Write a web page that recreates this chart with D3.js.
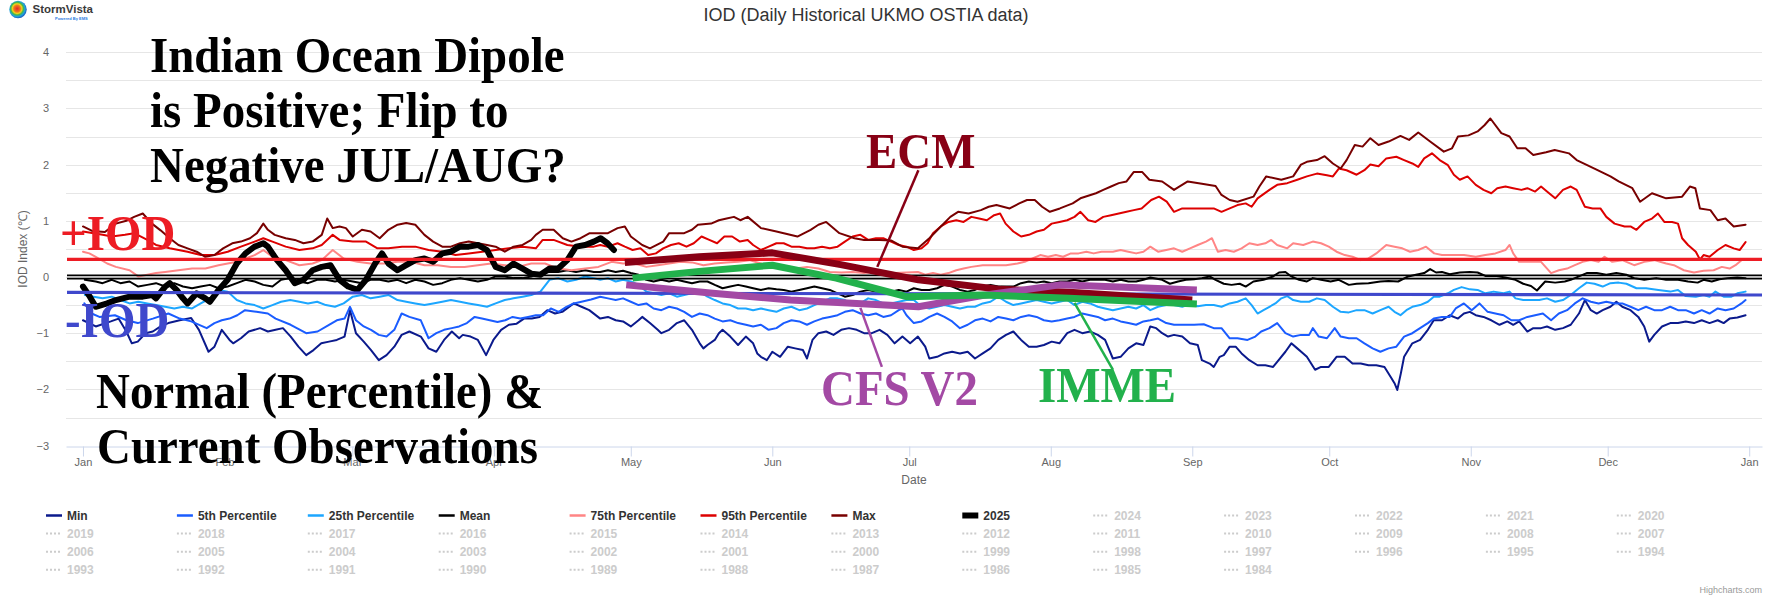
<!DOCTYPE html>
<html><head><meta charset="utf-8">
<script src="https://cdn.jsdelivr.net/npm/d3@7"></script>
<style>
body{margin:0;background:#fff;}
svg{display:block;font-family:"Liberation Sans",Arial,sans-serif;}
</style></head><body>
<svg id="chart" width="1772" height="600"></svg>
<script>
// ---------------- DATA ----------------
const monthLabels = ["Jan","Feb","Mar","Apr","May","Jun","Jul","Aug","Sep","Oct","Nov","Dec","Jan"];
const monthStartDays = [0,31,59,90,120,151,181,212,243,273,304,334,365];
const yTickValues = [-3,-2,-1,0,1,2,3,4];
const gridValues = [-2.5,-2,-1.5,-1,-0.5,0,0.5,1,1.5,2,2.5,3,3.5,4];

// [day of year, IOD index]
const minData = [[0,-0.77],[2.8,-0.88],[6.1,-0.79],[7.8,-0.74],[9.5,-0.97],[10.7,-1.18],[12,-1.15],[13.7,-1.0],[15.3,-0.97],[17,-0.88],[18.7,-0.82],[21.2,-0.77],[23.7,-0.73],[25.4,-0.94],[27.5,-1.33],[28.8,-1.24],[30.4,-0.94],[32.1,-1.12],[32.9,-1.18],[34.6,-1.09],[36.3,-0.97],[38.8,-0.91],[40.5,-0.97],[42.2,-0.94],[43.8,-0.91],[45.5,-1.06],[47.2,-1.24],[48.9,-1.39],[50.5,-1.30],[52.2,-1.18],[53.9,-1.15],[55.6,-1.12],[57.3,-1.06],[58.5,-0.59],[59.8,-1.0],[61.5,-1.15],[63.1,-1.30],[64.8,-1.48],[66.5,-1.39],[68.2,-1.24],[69.8,-1.03],[71.5,-0.97],[74,-1.06],[75.7,-1.27],[77.4,-1.33],[79.1,-1.12],[80.8,-0.97],[82.4,-1.09],[83.2,-1.03],[84.9,-1.06],[86.5,-1.12],[88.3,-1.39],[89.9,-1.12],[91.6,-0.94],[93.3,-0.85],[95,-0.83],[96.6,-0.74],[98.3,-0.74],[100,-0.71],[101.7,-0.59],[103.4,-0.65],[105,-0.62],[107.5,-0.47],[109.2,-0.53],[110.9,-0.59],[113.3,-0.74],[115,-0.71],[116.7,-0.77],[118.3,-0.79],[120,-0.88],[121.7,-0.77],[122.5,-0.71],[124.2,-0.82],[125.9,-0.94],[126.7,-1.0],[128.4,-0.94],[130.1,-0.82],[131.7,-0.77],[133.4,-0.94],[135.1,-1.18],[135.9,-1.27],[136.8,-1.21],[138.4,-1.12],[139.3,-1.0],[140.1,-0.94],[141.8,-1.06],[143.5,-1.21],[145.2,-1.06],[146.8,-1.18],[147.7,-1.36],[148.5,-1.42],[149.8,-1.48],[151,-1.33],[152.7,-1.42],[154.4,-1.24],[156,-1.27],[157.7,-1.30],[158.6,-1.45],[159.8,-1.12],[161.1,-1.0],[162.8,-0.97],[164.4,-1.03],[166.1,-0.94],[167.8,-0.91],[169.5,-0.94],[171.1,-1.0],[172.8,-1.0],[174.5,-0.94],[176.2,-1.03],[177.8,-1.18],[179.5,-1.06],[181.2,-1.18],[182.9,-1.06],[184.5,-1.24],[185.4,-1.45],[187.1,-1.42],[188.7,-1.36],[190.4,-1.33],[192.1,-1.36],[193.8,-1.33],[195.4,-1.45],[197.1,-1.36],[198.8,-1.27],[200.5,-1.12],[202.2,-1.03],[203.8,-0.97],[205.5,-1.12],[207.2,-1.24],[208.9,-1.24],[210.5,-1.21],[212.2,-1.15],[213.9,-1.18],[215.6,-1.0],[217.2,-0.94],[218.9,-1.0],[220.6,-0.97],[222.3,-1.03],[223.9,-1.12],[225.6,-1.45],[227.3,-1.42],[229,-1.27],[230.7,-1.18],[232.3,-1.21],[233.8,-0.88],[235.1,-0.91],[236.4,-1.0],[237.7,-1.06],[239,-1.03],[240.8,-1.06],[242.5,-1.18],[244.2,-1.21],[245.1,-1.48],[246.8,-1.54],[247.7,-1.60],[249,-1.42],[249.9,-1.39],[251.2,-1.24],[252.5,-1.24],[253.8,-1.36],[255.5,-1.48],[257.3,-1.57],[259,-1.57],[260.7,-1.60],[261.6,-1.51],[263.4,-1.33],[264.7,-1.18],[266,-1.27],[267.3,-1.36],[268.1,-1.42],[269.9,-1.65],[271.2,-1.60],[272.9,-1.60],[274.6,-1.42],[276.4,-1.42],[278.1,-1.54],[279.9,-1.54],[281.6,-1.57],[283.3,-1.57],[285.1,-1.60],[286.4,-1.77],[287.3,-1.89],[287.9,-2.01],[288.7,-1.71],[289.4,-1.42],[291.2,-1.18],[292.9,-1.12],[294.6,-0.94],[295.9,-0.77],[297.7,-0.77],[299.4,-0.68],[301.2,-0.74],[302.5,-0.65],[303.8,-0.62],[305.1,-0.68],[306.8,-0.71],[308.5,-0.77],[310.3,-0.85],[312,-0.79],[313.3,-0.85],[314.6,-0.79],[316.4,-0.97],[317.7,-0.91],[319.4,-0.91],[320.7,-0.88],[322.5,-0.94],[324.2,-0.91],[325.9,-0.85],[327.7,-0.65],[329,-0.41],[330.3,-0.59],[331.6,-0.65],[332.9,-0.59],[334.6,-0.53],[335.9,-0.44],[337.2,-0.53],[339,-0.59],[340.7,-0.71],[342,-0.88],[343.1,-1.15],[344.2,-1.03],[345.9,-0.88],[347.7,-0.82],[349.4,-0.82],[351.1,-0.79],[352.9,-0.82],[354.6,-0.77],[356.3,-0.82],[358.1,-0.77],[359.4,-0.82],[360.7,-0.74],[362.4,-0.72],[364.2,-0.68]];

const p5Data = [[0.3,-0.47],[1.9,-0.65],[3.6,-0.71],[7,-0.68],[9.5,-0.77],[12,-0.82],[15.3,-0.74],[18.7,-0.65],[21.2,-0.74],[23.7,-0.79],[27.1,-0.91],[28.8,-0.82],[30.4,-0.77],[32.1,-0.74],[33.8,-0.68],[35.5,-0.59],[38,-0.62],[40.5,-0.65],[42.2,-0.74],[45.5,-0.85],[48.9,-1.0],[51.4,-0.97],[53.9,-0.85],[55.6,-0.77],[57.3,-0.74],[58.5,-0.53],[59.8,-0.77],[61.5,-0.88],[63.1,-0.94],[64.8,-1.03],[66.5,-1.06],[68.2,-0.94],[69.8,-0.65],[71.5,-0.71],[74,-0.77],[75.7,-1.09],[77.4,-1.0],[79.1,-0.94],[80.8,-0.91],[82.4,-0.88],[84.1,-0.82],[85.8,-0.71],[87.4,-0.74],[89.1,-0.77],[90.8,-0.80],[92.5,-0.77],[94.1,-0.71],[95.8,-0.74],[97.5,-0.71],[99.2,-0.68],[100.8,-0.68],[102.5,-0.56],[104.2,-0.62],[105.9,-0.53],[107.5,-0.47],[109.2,-0.44],[111.3,-0.40],[113.3,-0.35],[115,-0.38],[116.7,-0.41],[118.3,-0.38],[120,-0.44],[121.7,-0.50],[123.4,-0.47],[125,-0.56],[126.7,-0.59],[128.4,-0.53],[130.1,-0.56],[131.7,-0.62],[133.4,-0.71],[135.1,-0.65],[136.8,-0.68],[138.4,-0.74],[140.1,-0.79],[141.8,-0.77],[143.5,-0.82],[145.2,-0.85],[146.8,-0.88],[148.5,-0.85],[150.2,-0.94],[151.9,-0.91],[153.5,-0.82],[155.2,-0.77],[156.9,-0.79],[158.6,-0.85],[160.2,-0.79],[161.9,-0.74],[163.6,-0.71],[165.3,-0.68],[166.9,-0.62],[168.6,-0.59],[170.3,-0.65],[172,-0.68],[173.7,-0.65],[175.3,-0.71],[177,-0.68],[178.7,-0.59],[179.5,-0.56],[180.4,-0.68],[182,-0.82],[183.7,-0.79],[185.4,-0.71],[187.1,-0.65],[188.7,-0.71],[190.4,-0.79],[192.1,-0.91],[193.8,-0.85],[195.4,-0.77],[197.1,-0.74],[198.8,-0.79],[200.5,-0.71],[202.2,-0.74],[203.8,-0.77],[205.5,-0.71],[207.2,-0.68],[208.9,-0.71],[210.5,-0.77],[212.2,-0.79],[213.9,-0.77],[215.6,-0.74],[217.2,-0.71],[218.9,-0.65],[220.6,-0.68],[222.3,-0.71],[223.9,-0.77],[225.6,-0.74],[227.3,-0.79],[229,-0.82],[230.7,-0.85],[232.3,-0.79],[233.8,-0.77],[235.5,-0.74],[237.3,-0.82],[239,-0.85],[240.8,-0.85],[243.4,-0.85],[245.5,-0.84],[247.7,-0.91],[249.4,-0.91],[251.2,-1.09],[252.9,-1.09],[255.1,-1.12],[256.8,-1.06],[258.1,-0.97],[259.9,-0.91],[261.6,-0.82],[263.4,-1.0],[265.1,-1.06],[266.8,-1.03],[268.6,-1.03],[269.4,-0.91],[270.7,-1.06],[272.5,-1.09],[274.2,-0.91],[275.5,-1.06],[277.3,-1.09],[279,-1.09],[280.7,-1.18],[282.5,-1.27],[284.2,-1.33],[286,-1.27],[287.7,-1.24],[289.4,-1.06],[291.2,-1.0],[292.9,-0.91],[294.6,-0.82],[295.9,-0.74],[297.7,-0.71],[299.4,-0.71],[300.7,-0.56],[302.5,-0.47],[304.2,-0.59],[305.9,-0.47],[307.7,-0.62],[309.4,-0.65],[311.2,-0.68],[312.9,-0.77],[314.6,-0.77],[316.4,-0.71],[318.1,-0.68],[319.8,-0.65],[321.6,-0.77],[323.3,-0.65],[325.1,-0.59],[326.8,-0.47],[328.5,-0.38],[330.3,-0.44],[332,-0.47],[333.7,-0.44],[335.5,-0.47],[337.2,-0.47],[339,-0.53],[340.7,-0.59],[342.4,-0.53],[344.2,-0.59],[345.9,-0.59],[347.7,-0.53],[349.4,-0.59],[351.1,-0.59],[352.9,-0.65],[354.6,-0.59],[356.3,-0.65],[358.1,-0.56],[359.8,-0.59],[361.6,-0.56],[363.3,-0.47],[364.2,-0.41]];

const p25Data = [[0.4,-0.32],[2.3,-0.35],[4.3,-0.38],[6.3,-0.35],[8.2,-0.41],[10.2,-0.47],[12.1,-0.44],[14.1,-0.47],[16,-0.50],[18,-0.53],[20,-0.56],[21.9,-0.53],[23.9,-0.56],[25.8,-0.47],[27.8,-0.38],[29.7,-0.23],[31.7,-0.26],[33.7,-0.41],[35.6,-0.47],[37.6,-0.50],[39.5,-0.56],[41.5,-0.50],[43.4,-0.44],[45.4,-0.41],[47.4,-0.44],[49.3,-0.47],[51.3,-0.44],[53.2,-0.50],[55.2,-0.53],[57.1,-0.47],[59.1,-0.35],[61.1,-0.32],[63,-0.38],[65,-0.35],[66.9,-0.32],[68.9,-0.41],[70.8,-0.44],[72.8,-0.47],[74.8,-0.50],[76.7,-0.47],[78.7,-0.44],[80.6,-0.41],[82.6,-0.44],[84.5,-0.47],[86.5,-0.50],[88.5,-0.53],[90.4,-0.47],[92.4,-0.41],[94.3,-0.38],[96.3,-0.35],[98.2,-0.32],[100.2,-0.26],[102.2,-0.05],[104.1,-0.02],[106.1,-0.08],[108,-0.05],[110,0.01],[111.9,-0.02],[113.3,-0.05],[115,-0.02],[116.7,-0.08],[118.3,-0.05],[120,-0.08],[121.7,-0.14],[123.4,-0.26],[125,-0.29],[126.7,-0.32],[128.4,-0.29],[130.1,-0.35],[131.7,-0.32],[133.4,-0.29],[135.1,-0.26],[136.8,-0.35],[138.4,-0.41],[140.1,-0.47],[141.8,-0.50],[143.5,-0.56],[145.2,-0.56],[146.8,-0.59],[148.5,-0.56],[150.2,-0.59],[151.9,-0.62],[153.5,-0.56],[155.2,-0.53],[156.9,-0.59],[158.6,-0.56],[160.2,-0.50],[161.9,-0.44],[163.6,-0.38],[165.3,-0.38],[166.9,-0.41],[168.6,-0.50],[170.3,-0.47],[172,-0.38],[173.7,-0.41],[175.3,-0.47],[177,-0.47],[178.7,-0.44],[180.4,-0.41],[182,-0.41],[183.7,-0.53],[185.4,-0.56],[187.1,-0.53],[188.7,-0.50],[190.4,-0.53],[192.1,-0.56],[193.8,-0.53],[195.4,-0.53],[197.1,-0.47],[198.8,-0.44],[200.5,-0.35],[202.2,-0.44],[203.8,-0.50],[205.5,-0.47],[207.2,-0.44],[208.9,-0.41],[210.5,-0.44],[212.2,-0.47],[213.9,-0.44],[215.6,-0.41],[217.2,-0.50],[218.9,-0.44],[220.6,-0.47],[222.3,-0.53],[223.9,-0.56],[225.6,-0.59],[227.3,-0.56],[229,-0.53],[230.7,-0.56],[232.3,-0.50],[233.8,-0.59],[235.5,-0.53],[237.3,-0.50],[239,-0.50],[240.8,-0.53],[242.5,-0.48],[244.2,-0.52],[246,-0.50],[247.7,-0.50],[249.4,-0.53],[251.2,-0.47],[252.9,-0.44],[254.7,-0.38],[256,-0.50],[257.3,-0.65],[258.6,-0.59],[259.9,-0.53],[261.2,-0.47],[262.5,-0.38],[263.8,-0.34],[265.1,-0.41],[266.8,-0.44],[268.6,-0.44],[270.3,-0.38],[272,-0.41],[273.8,-0.53],[275.5,-0.62],[277.3,-0.63],[279,-0.59],[280.7,-0.59],[282.5,-0.65],[284.2,-0.59],[286,-0.53],[287.3,-0.62],[288.6,-0.68],[289.9,-0.59],[291.2,-0.53],[292.9,-0.50],[294.6,-0.44],[295.9,-0.35],[297.2,-0.35],[299,-0.29],[300.3,-0.23],[302,-0.18],[303.8,-0.22],[305.5,-0.23],[307.2,-0.29],[309,-0.26],[311.2,-0.29],[312.5,-0.26],[313.8,-0.38],[315.5,-0.41],[317.2,-0.41],[319,-0.41],[320.7,-0.38],[322.5,-0.44],[324.2,-0.41],[325.9,-0.32],[327.7,-0.20],[329.4,-0.10],[331.1,-0.12],[332.9,-0.17],[334.6,-0.11],[336.4,-0.10],[338.1,-0.12],[340.3,-0.20],[342.4,-0.20],[345.1,-0.23],[347.7,-0.26],[349.4,-0.23],[351.1,-0.34],[353.3,-0.35],[355,-0.32],[356.3,-0.35],[357.6,-0.26],[359.4,-0.35],[361.1,-0.35],[362.4,-0.29],[364.2,-0.26]];

const meanData = [[0.4,-0.05],[2.8,-0.08],[4.3,-0.11],[6.3,-0.05],[8.2,-0.11],[10.2,-0.08],[12.1,-0.17],[14.1,-0.14],[16,-0.11],[18,-0.17],[20,-0.11],[21.9,-0.17],[23.9,-0.20],[25.8,-0.17],[27.8,-0.14],[29.7,-0.20],[31.7,-0.17],[33.7,-0.11],[35.6,-0.05],[37.6,-0.08],[39.5,-0.14],[41.5,-0.17],[43.4,-0.05],[45.4,-0.02],[47.4,-0.08],[49.3,-0.11],[51.3,-0.05],[53.2,-0.05],[55.2,-0.08],[57.1,-0.05],[59.1,-0.08],[61.1,-0.11],[63,-0.05],[65,-0.05],[66.9,-0.08],[68.9,-0.05],[70.8,-0.11],[72.8,-0.05],[74.8,-0.08],[76.7,-0.14],[78.7,-0.11],[80.6,-0.05],[82.6,-0.02],[84.5,-0.05],[86.5,-0.08],[88.5,-0.05],[90.4,0.01],[92.4,0.01],[94.3,-0.02],[96.3,-0.02],[98.2,0.01],[100.2,0.07],[102.2,0.09],[104.1,0.09],[106.1,0.12],[108,0.09],[110,0.12],[111.9,0.09],[113.3,0.09],[115,0.12],[116.7,0.09],[118.3,0.11],[120,0.07],[121.7,0.04],[123.4,-0.05],[125,-0.08],[126.7,-0.05],[128.4,-0.08],[130.1,-0.05],[131.7,-0.08],[133.4,-0.11],[135.1,-0.08],[136.8,-0.08],[138.4,-0.14],[140.1,-0.20],[141.8,-0.17],[143.5,-0.14],[145.2,-0.17],[146.8,-0.20],[148.5,-0.23],[150.2,-0.20],[151.9,-0.22],[153.5,-0.23],[155.2,-0.26],[156.9,-0.23],[158.6,-0.20],[160.2,-0.17],[161.9,-0.20],[163.6,-0.23],[165.3,-0.29],[166.9,-0.35],[168.6,-0.32],[170.3,-0.26],[172,-0.23],[173.7,-0.26],[175.3,-0.26],[177,-0.26],[178.7,-0.23],[180.4,-0.26],[182,-0.20],[183.7,-0.23],[185.4,-0.23],[187.1,-0.20],[188.7,-0.14],[190.4,-0.17],[192.1,-0.23],[193.8,-0.26],[195.4,-0.23],[197.1,-0.17],[198.8,-0.14],[200.5,-0.17],[202.2,-0.17],[203.8,-0.17],[205.5,-0.11],[207.2,-0.08],[208.9,-0.10],[210.5,-0.08],[212.2,-0.11],[213.9,-0.08],[215.6,-0.08],[217.2,-0.05],[218.9,-0.08],[220.6,-0.05],[222.3,-0.05],[223.9,-0.05],[225.6,-0.08],[227.3,-0.05],[229,-0.08],[230.7,-0.08],[232.3,-0.05],[233.8,-0.01],[236.4,-0.05],[238.1,-0.12],[239.9,-0.08],[241.6,-0.05],[243.4,-0.04],[245.1,-0.02],[246.8,0.01],[248.1,-0.05],[249.9,-0.12],[251.6,-0.14],[253.4,-0.12],[254.7,-0.17],[256.4,-0.08],[258.6,-0.05],[260.7,0.01],[262,0.08],[263.4,0.09],[264.7,0.01],[266.4,-0.05],[268.1,-0.08],[269.4,-0.02],[271.2,-0.05],[273.3,-0.08],[275.1,-0.05],[277.3,-0.14],[279,-0.12],[281.6,-0.11],[284.2,-0.08],[286,-0.07],[288.1,-0.08],[290.3,0.01],[292,0.04],[293.8,0.07],[295.1,0.14],[296.4,0.08],[297.7,0.09],[299.4,0.05],[301.6,0.08],[303.8,0.09],[305.5,0.08],[307.2,0.02],[309.4,0.02],[311.6,-0.01],[313.8,-0.05],[315.5,-0.12],[317.2,-0.16],[318.5,-0.24],[320.3,-0.08],[322.5,-0.10],[324.6,-0.08],[325.9,-0.05],[327.7,0.01],[329.4,0.07],[331.6,0.07],[333.7,0.04],[335.9,0.07],[338.1,0.04],[339.8,-0.02],[342,-0.05],[344.6,-0.02],[346.8,-0.05],[349.4,-0.05],[351.6,-0.08],[353.7,-0.10],[355,-0.05],[356.8,-0.08],[358.5,-0.04],[360.3,-0.02],[362.4,-0.01],[364.2,-0.02]];

const p75Data = [[0,0.45],[1.4,0.42],[2.8,0.36],[5.3,0.24],[7.2,0.18],[10.2,0.12],[12.1,0.01],[14.1,0.04],[16,0.07],[18,0.09],[20.9,0.12],[23.9,0.15],[26.8,0.15],[29.7,0.21],[31.7,0.24],[33.7,0.27],[35.6,0.33],[37.6,0.39],[39.5,0.48],[41.5,0.36],[44.4,0.30],[47.4,0.21],[50.3,0.24],[52.3,0.30],[54.7,0.48],[57.1,0.33],[60.1,0.27],[63,0.24],[66,0.24],[68.9,0.27],[71.8,0.27],[74.8,0.21],[77.7,0.21],[80.6,0.18],[83.6,0.18],[86.5,0.21],[89.4,0.24],[92.4,0.21],[95.3,0.18],[98.2,0.24],[101.2,0.24],[104.1,0.15],[107,0.12],[110,0.15],[112.9,0.18],[115.8,0.27],[118.3,0.24],[120.8,0.24],[123.4,0.18],[125.9,0.21],[128.4,0.24],[130.9,0.27],[133.4,0.26],[135.9,0.21],[138.4,0.24],[141,0.26],[143.5,0.27],[146,0.30],[148.5,0.24],[151,0.18],[153.5,0.15],[156,0.15],[158.6,0.18],[161.1,0.15],[163.6,0.09],[166.1,0.08],[168.6,0.09],[171.1,0.07],[172.8,0.09],[175.3,0.08],[177.8,0.07],[180.4,0.08],[182.9,0.09],[184.5,0.04],[186.2,0.07],[187.9,0.04],[189.6,0.07],[191.3,0.12],[192.9,0.15],[194.6,0.18],[197.1,0.21],[199.6,0.21],[202.2,0.21],[204.7,0.24],[206.3,0.27],[208,0.33],[209.7,0.39],[211.4,0.36],[213.1,0.39],[214.7,0.36],[216.4,0.42],[218.1,0.42],[219.8,0.45],[221.4,0.42],[223.1,0.45],[225.6,0.45],[227.3,0.48],[229,0.45],[230.7,0.42],[232.3,0.45],[233.8,0.54],[235.5,0.45],[237.3,0.48],[239,0.51],[240.8,0.45],[242.5,0.51],[244.2,0.57],[246,0.63],[247.3,0.69],[248.6,0.45],[250.3,0.48],[252.1,0.45],[253.8,0.51],[255.5,0.60],[257.3,0.57],[259,0.60],[260.3,0.66],[261.6,0.57],[263.8,0.51],[265.1,0.60],[267.3,0.57],[269.4,0.63],[271.2,0.60],[272.9,0.54],[274.6,0.45],[276.4,0.39],[278.1,0.36],[279.9,0.30],[281.6,0.33],[283.3,0.42],[285.5,0.57],[287.3,0.54],[289,0.51],[290.7,0.45],[292.5,0.48],[294.2,0.54],[296,0.42],[297.7,0.39],[299.9,0.39],[302.5,0.39],[305.1,0.36],[307.2,0.39],[309.4,0.42],[311.6,0.48],[312.5,0.57],[313.3,0.42],[314.6,0.27],[317.2,0.27],[319.4,0.27],[321.6,0.07],[323.3,0.12],[325.1,0.15],[326.8,0.21],[328.5,0.27],[330.3,0.30],[332,0.27],[333.3,0.36],[335,0.27],[337.2,0.30],[339.8,0.21],[342,0.27],[344.2,0.30],[346.8,0.24],[348.5,0.21],[350.7,0.12],[352.9,0.08],[355,0.11],[357.2,0.12],[359,0.18],[360.7,0.15],[362,0.21],[363.3,0.30]];

const p95Data = [[0,0.81],[4.3,0.75],[6.3,0.72],[9.2,0.75],[11.2,0.78],[14.1,0.66],[16,0.57],[19,0.51],[22.9,0.45],[25.8,0.39],[28.8,0.39],[31.7,0.45],[34.6,0.54],[37.6,0.63],[39.5,0.69],[41.5,0.63],[44.4,0.54],[47.4,0.48],[50.3,0.51],[52.3,0.57],[54.7,0.75],[56.2,0.66],[59.1,0.63],[62,0.63],[64.5,0.51],[66.9,0.51],[69.9,0.54],[72.8,0.54],[75.7,0.48],[78.7,0.45],[81.6,0.39],[84.5,0.42],[87.5,0.45],[90.4,0.48],[93.3,0.51],[96.3,0.54],[99.2,0.51],[100.7,0.66],[103.1,0.66],[106.1,0.57],[109,0.54],[111.9,0.54],[113.3,0.57],[115,0.54],[117.1,0.60],[118.7,0.54],[120.4,0.48],[122.1,0.51],[123.8,0.39],[125.5,0.42],[127.1,0.51],[128.8,0.57],[130.5,0.60],[132.2,0.54],[133.8,0.60],[135.5,0.72],[137.2,0.66],[138.9,0.60],[140.5,0.72],[142.2,0.72],[143.9,0.63],[145.6,0.66],[146.8,0.57],[148.5,0.48],[150.2,0.54],[151.9,0.60],[153.5,0.60],[155.2,0.54],[156.9,0.54],[158.6,0.51],[160.2,0.51],[161.9,0.54],[163.6,0.51],[165.3,0.54],[166.9,0.63],[168.6,0.72],[170.3,0.75],[172,0.66],[173.7,0.69],[175.3,0.69],[177,0.63],[178.7,0.57],[180.4,0.54],[182,0.48],[183.7,0.51],[185,0.60],[186.2,0.78],[187.9,0.90],[189.6,0.98],[191.3,1.01],[192.9,0.98],[194.6,1.07],[196.3,1.04],[198,1.01],[199.6,1.10],[200.9,1.13],[202.1,0.95],[203.8,0.81],[205.5,0.72],[207.2,0.75],[208.9,0.81],[210.5,0.84],[212.2,0.95],[213.9,0.98],[215.6,1.01],[217.2,1.07],[218.5,1.16],[220.2,1.01],[221.8,0.98],[223.5,1.07],[225.2,1.10],[226.9,1.13],[228.6,1.16],[230.2,1.19],[231.9,1.22],[234,1.37],[235.7,1.43],[237.4,1.34],[239,1.16],[240.8,1.22],[242.5,1.22],[245.1,1.22],[247.7,1.22],[249.4,1.16],[251.2,1.22],[252.9,1.28],[254.7,1.31],[256,1.25],[257.3,1.40],[259.9,1.55],[261.6,1.64],[263.8,1.67],[266,1.73],[268.1,1.79],[270.3,1.84],[272.5,1.81],[273.8,1.79],[275.1,1.93],[276.8,1.90],[279,1.82],[280.7,1.90],[282,2.0],[283.8,1.97],[285.5,2.11],[287.7,2.14],[289.4,2.08],[291.2,2.02],[292.5,1.96],[293.8,2.11],[295.5,2.20],[297.2,2.08],[299,1.99],[300.3,1.82],[301.6,1.73],[303.3,1.79],[305.1,1.64],[306.8,1.55],[308.5,1.49],[309.8,1.58],[311.6,1.61],[313.3,1.58],[315.1,1.55],[316.4,1.58],[318.1,1.52],[319.4,1.61],[320.7,1.52],[322.5,1.40],[324.2,1.55],[325.9,1.61],[327.2,1.55],[329,1.25],[330.7,1.22],[332.4,1.22],[333.7,1.07],[335.5,0.95],[337.7,0.90],[339,0.90],[340.3,0.84],[342,0.98],[343.7,1.04],[345,1.13],[346.4,0.98],[348.1,0.98],[349.4,0.95],[350.3,0.69],[351.6,0.57],[353.3,0.45],[354.2,0.31],[355,0.39],[356.3,0.36],[358.1,0.48],[359.8,0.57],[361.6,0.51],[362.9,0.48],[364.2,0.62]];

const maxData = [[0,0.90],[2,0.82],[4.8,0.80],[7.2,0.95],[9.5,1.0],[11.2,1.07],[13.1,1.13],[15.1,0.95],[17,0.83],[19,0.69],[20.9,0.57],[22.9,0.51],[24.9,0.45],[26.8,0.36],[28.8,0.39],[30.7,0.51],[32.7,0.60],[34.6,0.63],[36.6,0.69],[38.1,0.78],[39.5,0.95],[40.5,0.84],[42,0.75],[44.4,0.69],[46.4,0.66],[48.3,0.60],[50.3,0.63],[52.3,0.75],[53.5,1.04],[54.7,0.87],[56.2,0.90],[57.6,0.87],[59.1,0.72],[61.1,0.84],[63,0.81],[65,0.69],[66.9,0.84],[68.9,0.93],[70.8,0.96],[72.8,0.93],[74.8,0.75],[76.7,0.63],[78.7,0.54],[80.6,0.54],[82.6,0.60],[84.5,0.63],[86.5,0.60],[88.5,0.57],[90.4,0.54],[92.4,0.45],[94.3,0.54],[96.3,0.57],[98.2,0.66],[99.2,0.75],[100.7,0.84],[103.1,0.84],[105.1,0.69],[107,0.63],[109,0.69],[111,0.78],[113.9,0.78],[115,0.78],[117.1,0.87],[118.7,0.90],[120,0.72],[122.5,0.57],[124.2,0.51],[127.1,0.63],[128.4,0.78],[131.7,0.78],[133.4,0.84],[134.7,0.93],[137.6,0.95],[139.3,1.01],[141,1.04],[142.6,1.07],[144,1.01],[145.6,1.07],[148.5,0.87],[151.9,0.81],[156.5,0.72],[159.4,0.84],[161.1,0.93],[162.8,0.98],[165.7,0.78],[169,0.69],[171.1,0.66],[174.5,0.66],[177,0.65],[179.5,0.54],[182.9,0.51],[185.4,0.69],[188.3,0.93],[190,1.07],[191.7,1.16],[194,1.13],[196.7,1.19],[198.4,1.25],[200.1,1.28],[203,1.22],[205.1,1.31],[206.8,1.37],[208.5,1.37],[210.1,1.25],[211.8,1.16],[214,1.22],[216.8,1.31],[218.5,1.40],[221.9,1.49],[223.5,1.55],[225.2,1.61],[226.9,1.67],[228.6,1.70],[230.2,1.87],[232,1.87],[233.6,1.73],[236.4,1.70],[239,1.55],[242,1.70],[245.1,1.66],[248.1,1.62],[249.4,1.46],[251.2,1.37],[252.9,1.34],[256.4,1.43],[257.7,1.61],[259.2,1.79],[262.5,1.73],[265.1,1.79],[266.8,2.0],[268.1,2.05],[270.3,2.08],[272,2.15],[273.8,2.02],[275.5,1.93],[276.8,2.08],[278.6,2.35],[280.3,2.32],[282,2.47],[283.8,2.35],[286,2.41],[288.6,2.51],[290.5,2.44],[292.5,2.57],[295.1,2.41],[298.1,2.23],[299.9,2.29],[301.2,2.50],[303.5,2.52],[305.5,2.59],[307,2.70],[308.3,2.82],[310.7,2.56],[312.5,2.50],[314.2,2.29],[316,2.29],[317.7,2.17],[320.5,2.22],[322.4,2.26],[325.5,2.20],[327.2,2.08],[329.5,1.99],[331.1,1.93],[334.6,1.79],[336.4,1.70],[339.4,1.58],[341.1,1.34],[343.7,1.49],[346.8,1.40],[350.3,1.43],[352,1.61],[353.2,1.58],[354.2,1.22],[356.5,1.19],[358.1,1.01],[359.8,1.04],[361.6,0.90],[364.2,0.93]];

const obs2025Data = [[0,-0.17],[1.5,-0.35],[2.8,-0.53],[5.3,-0.47],[7.2,-0.41],[10.2,-0.35],[13.1,-0.35],[15.1,-0.32],[16,-0.38],[18,-0.17],[19,-0.11],[20.5,-0.23],[21.9,-0.38],[22.9,-0.47],[24.9,-0.29],[26.8,-0.38],[27.8,-0.44],[29.7,-0.23],[31.7,-0.05],[33.7,0.24],[35.6,0.42],[37.6,0.54],[39.5,0.60],[40.5,0.54],[42.5,0.30],[44.4,0.12],[46.4,-0.11],[48.3,-0.05],[50.3,0.12],[52.3,0.18],[54.2,0.21],[56.2,-0.05],[58.1,-0.17],[60.1,-0.23],[62,-0.05],[64,0.24],[65.5,0.42],[66.9,0.24],[68.9,0.12],[70.8,0.21],[72.8,0.30],[74.8,0.33],[76.7,0.27],[78.7,0.42],[80.6,0.45],[82.6,0.54],[84.5,0.54],[86.5,0.57],[88.5,0.48],[90.4,0.18],[92.4,0.12],[94.3,0.24],[96.3,0.15],[98.2,0.06],[100.2,0.04],[102.2,0.15],[104.1,0.15],[106.1,0.30],[108,0.54],[110,0.57],[111.9,0.63],[113.4,0.69],[114.9,0.60],[116.3,0.48]];

// Hand-drawn model forecasts (annotations)
const ecmForecast = [[118.7,0.26],[135,0.36],[151,0.43],[166,0.22],[183,-0.05],[201,-0.22],[216,-0.27],[243,-0.41]];
const immeForecast = [[120.4,-0.02],[135,0.10],[151,0.21],[165,-0.02],[180.4,-0.35],[197,-0.32],[216,-0.38],[244,-0.48]];
const cfsForecast = [[119,-0.14],[138,-0.29],[155,-0.41],[183,-0.53],[197,-0.33],[214,-0.14],[244,-0.23]];

// reference lines drawn on the chart: [start day, start value, end day, end value]
const posIODLine = [-3.5,0.315,367.8,0.315];
const negIODLine = [-3.5,-0.275,367.8,-0.32];
const zeroLines = [[-3.5,0.03,367.8,0.03],[-3.5,-0.03,367.8,-0.03]];

const legendNames = ["Min","5th Percentile","25th Percentile","Mean","75th Percentile","95th Percentile","Max","2025",
  "2024","2023","2022","2021","2020","2019","2018","2017","2016","2015","2014","2013","2012","2011","2010","2009","2008","2007",
  "2006","2005","2004","2003","2002","2001","2000","1999","1998","1997","1996","1995","1994","1993","1992","1991","1990","1989",
  "1988","1987","1986","1985","1984"];

// ---------------- DRAW ----------------
const svg = d3.select("#chart");
const W = 1772, H = 600;
const plot = {left:66, right:1762, top:52.2, bottom:445.6};
const x = d3.scaleLinear().domain([-3.72, 367.8]).range([plot.left, plot.right]);
const y = d3.scaleLinear().domain([-3, 4]).range([plot.bottom, plot.top]);

const colors = {
  min:"#0b1a8c", p5:"#1a5cff", p25:"#1ca6ff", mean:"#000000",
  p75:"#ff8585", p95:"#dd0000", max:"#780000", obs:"#000000"
};

svg.append("rect").attr("width",W).attr("height",H).attr("fill","#fff");

const defs = svg.append("defs");
defs.append("clipPath").attr("id","plotclip").append("rect")
  .attr("x",plot.left).attr("y",plot.top-5).attr("width",plot.right-plot.left).attr("height",plot.bottom-plot.top+10);
const rg = defs.append("radialGradient").attr("id","logoGrad").attr("cx","45%").attr("cy","45%").attr("r","55%");
[[0,"#e3262b"],[0.35,"#f07a1a"],[0.5,"#f3d51b"],[0.65,"#45b649"],[0.82,"#1fa4dc"],[1,"#1d5fc0"]]
  .forEach(s=>rg.append("stop").attr("offset",s[0]).attr("stop-color",s[1]));

// title
svg.append("text").attr("x",866).attr("y",21).attr("text-anchor","middle")
  .attr("font-size","18px").attr("fill","#333333").text("IOD (Daily Historical UKMO OSTIA data)");

// logo
svg.append("circle").attr("cx",18).attr("cy",9.5).attr("r",8.7).attr("fill","url(#logoGrad)");
svg.append("text").attr("x",32.5).attr("y",13).attr("font-size","11.5px").attr("font-weight","bold").attr("fill","#3a3a3a")
  .text("StormVista");
svg.append("text").attr("x",55).attr("y",19.5).attr("font-size","4px").attr("font-weight","bold").attr("fill","#2a7de1")
  .text("Powered By EMS");

// gridlines
svg.append("g").selectAll("line").data(gridValues).join("line")
  .attr("x1",plot.left).attr("x2",plot.right)
  .attr("y1",d=>Math.round(y(d))+0.5).attr("y2",d=>Math.round(y(d))+0.5)
  .attr("stroke","#e6e6e6").attr("stroke-width",1);

// x axis
const xAxis = d3.axisBottom(x).tickValues(monthStartDays).tickFormat((d,i)=>monthLabels[i])
  .tickSize(10).tickSizeOuter(0).tickPadding(2);
const gx = svg.append("g").attr("transform",`translate(0,${Math.round(plot.bottom)+0.5})`).call(xAxis);
gx.select(".domain").attr("stroke","#ccd6eb");
gx.selectAll(".tick line").attr("stroke","#ccd6eb");
gx.selectAll(".tick text").attr("fill","#666666").attr("font-size","11px").attr("font-family","Liberation Sans, Arial, sans-serif");

// y axis labels
const yAxis = d3.axisLeft(y).tickValues(yTickValues).tickFormat(d=> d<0 ? "\u2212"+Math.abs(d) : String(d))
  .tickSize(0).tickPadding(0);
const gy = svg.append("g").attr("transform","translate(49,0)").call(yAxis);
gy.select(".domain").remove();
gy.selectAll(".tick text").attr("fill","#666666").attr("font-size","11px").attr("font-family","Liberation Sans, Arial, sans-serif");

// axis titles
svg.append("text").attr("transform","translate(27,249) rotate(-90)").attr("text-anchor","middle")
  .attr("font-size","12px").attr("fill","#666666").text("IOD Index (\u2103)");
svg.append("text").attr("x",(plot.left+plot.right)/2).attr("y",484).attr("text-anchor","middle")
  .attr("font-size","12px").attr("fill","#666666").text("Date");

// series
const line = d3.line().x(d=>x(d[0])).y(d=>y(d[1]));
const gs = svg.append("g").attr("clip-path","url(#plotclip)");
const seriesList = [
  [minData,colors.min],[p5Data,colors.p5],[p25Data,colors.p25],[meanData,colors.mean],
  [p75Data,colors.p75],[p95Data,colors.p95],[maxData,colors.max]
];
seriesList.forEach(([data,c])=>{
  gs.append("path").datum(data).attr("d",line).attr("fill","none").attr("stroke",c)
    .attr("stroke-width",2).attr("stroke-linejoin","round").attr("stroke-linecap","round");
});
gs.append("path").datum(obs2025Data).attr("d",line).attr("fill","none").attr("stroke",colors.obs)
  .attr("stroke-width",6).attr("stroke-linejoin","round").attr("stroke-linecap","round");

// ---------------- ANNOTATIONS ----------------
const ga = svg.append("g");
function hline(seg,color,w){
  ga.append("line").attr("x1",x(seg[0])).attr("y1",y(seg[1])).attr("x2",x(seg[2])).attr("y2",y(seg[3]))
    .attr("stroke",color).attr("stroke-width",w);
}
zeroLines.forEach(s=>hline(s,"#000000",1.7));
hline(posIODLine,"#ed1c24",3.2);
hline(negIODLine,"#3f48cc",3.2);

const fline = d3.line().x(d=>x(d[0])).y(d=>y(d[1]));
ga.append("path").datum(ecmForecast).attr("d",fline).attr("fill","none").attr("stroke","#880015").attr("stroke-width",7).attr("stroke-linejoin","round");
ga.append("path").datum(cfsForecast).attr("d",fline).attr("fill","none").attr("stroke","#a349a4").attr("stroke-width",7).attr("stroke-linejoin","round");
ga.append("path").datum(immeForecast).attr("d",fline).attr("fill","none").attr("stroke","#22b14c").attr("stroke-width",7).attr("stroke-linejoin","round");

// leader lines (in data coordinates)
const leaders = [
  {from:[183,1.90], to:[174,0.18], c:"#880015"},
  {from:[170.3,-0.55], to:[175,-1.60], c:"#a349a4"},
  {from:[217.2,-0.46], to:[225.6,-1.65], c:"#22b14c"}
];
leaders.forEach(l=>{
  ga.append("line").attr("x1",x(l.from[0])).attr("y1",y(l.from[1])).attr("x2",x(l.to[0])).attr("y2",y(l.to[1]))
    .attr("stroke",l.c).attr("stroke-width",2.5);
});

const serif = "Liberation Serif, Times New Roman, serif";
const bigTexts = [
  {t:"Indian Ocean Dipole", x:150, y:72, c:"#000"},
  {t:"is Positive; Flip to", x:150, y:127, c:"#000"},
  {t:"Negative JUL/AUG?", x:150, y:182, c:"#000"},
  {t:"+IOD", x:60, y:250, c:"#ed1c24"},
  {t:"-IOD", x:65, y:337, c:"#3f48cc"},
  {t:"ECM", x:866, y:168, c:"#880015"},
  {t:"Normal (Percentile) &", x:96, y:408, c:"#000"},
  {t:"Current Observations", x:97, y:463, c:"#000"},
  {t:"CFS V2", x:821, y:405, c:"#a349a4"},
  {t:"IMME", x:1038, y:402, c:"#22b14c"}
];
bigTexts.forEach(b=>{
  ga.append("text").attr("transform",`translate(${b.x},${b.y}) scale(0.92,1)`)
    .attr("font-family",serif).attr("font-weight","bold")
    .attr("font-size","51px").attr("fill",b.c).text(b.t);
});

// ---------------- LEGEND ----------------
const legendActive = {"Min":colors.min,"5th Percentile":colors.p5,"25th Percentile":colors.p25,"Mean":colors.mean,
  "75th Percentile":colors.p75,"95th Percentile":colors.p95,"Max":colors.max,"2025":colors.obs};
const gl = svg.append("g");
legendNames.forEach((name,i)=>{
  const col = i % 13, row = Math.floor(i/13);
  const lx = 46 + col*130.9, ly = 515.5 + row*18.1;
  const g = gl.append("g").attr("transform",`translate(${lx},${ly})`);
  const active = name in legendActive;
  if(active){
    g.append("line").attr("x1",0).attr("x2",16).attr("y1",0).attr("y2",0)
      .attr("stroke",legendActive[name]).attr("stroke-width",name==="2025"?6:2.5);
  } else {
    g.append("line").attr("x1",0).attr("x2",16).attr("y1",0).attr("y2",0)
      .attr("stroke","#cccccc").attr("stroke-width",2).attr("stroke-dasharray","2,2");
  }
  g.append("text").attr("x",21).attr("y",4.3).attr("font-size","12px").attr("font-weight","bold")
    .attr("fill",active?"#333333":"#cccccc").text(name);
});

// credits
svg.append("text").attr("x",1762).attr("y",593).attr("text-anchor","end").attr("font-size","9px")
  .attr("fill","#999999").text("Highcharts.com");
</script>
</body></html>
